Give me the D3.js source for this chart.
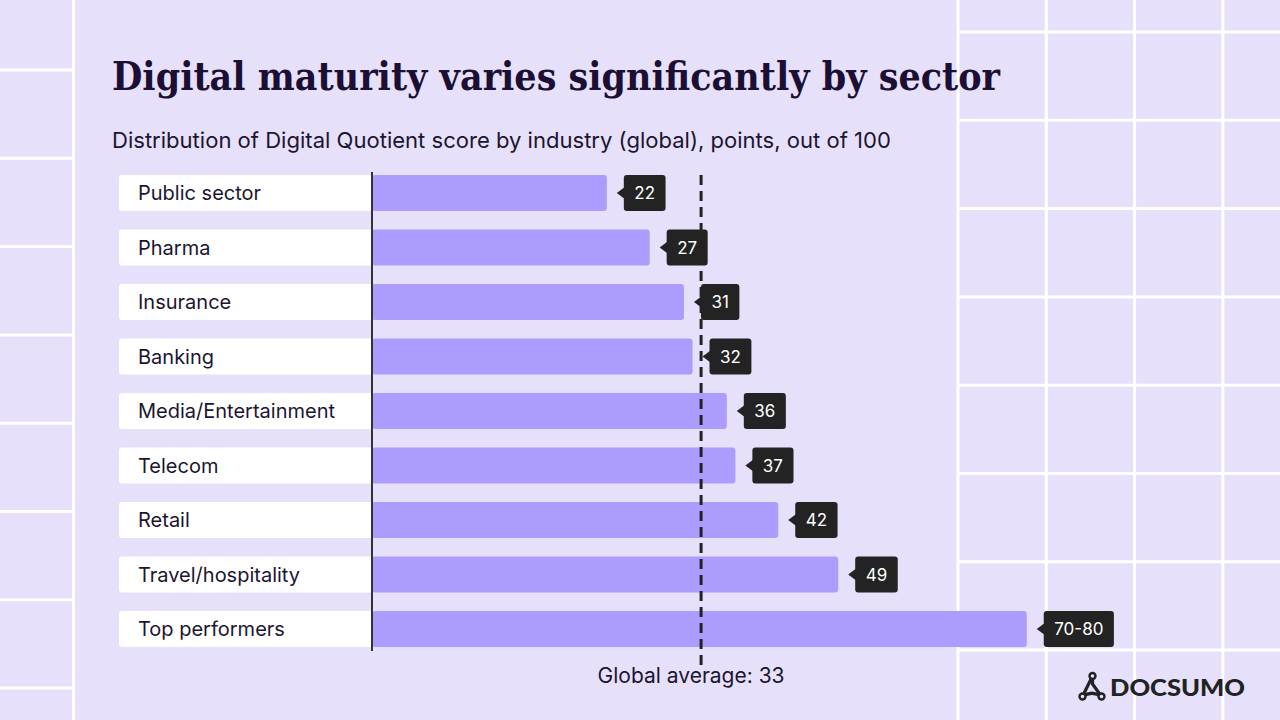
<!DOCTYPE html>
<html>
<head>
<meta charset="utf-8">
<script src="https://cdn.jsdelivr.net/npm/d3@7"></script>
<style>
  html, body { margin: 0; padding: 0; background: #E6E0FA; }
  svg { display: block; }
</style>
</head>
<body>
<svg id="chart" width="1280" height="720"></svg>
<script>
// ---- data ----
const categories = ["Public sector", "Pharma", "Insurance", "Banking", "Media/Entertainment", "Telecom", "Retail", "Travel/hospitality", "Top performers"];
const scores = [22, 27, 31, 32, 36, 37, 42, 49, 71];
const scoreLabels = ["22", "27", "31", "32", "36", "37", "42", "49", "70-80"];
const globalAverage = 33;
const titleText = "Digital maturity varies significantly by sector";
const subtitleText = "Distribution of Digital Quotient score by industry (global), points, out of 100";
const averageLabel = "Global average: 33";

// ---- styles ----
const BG = "#E6E0FA", BAR = "#AB9CFD", TAG = "#232323", INK = "#1C1530", TITLE = "#1B0F33";

const svg = d3.select("#chart");
svg.append("rect").attr("width", 1280).attr("height", 720).attr("fill", BG);

// ---- decorative grid ----
const grid = svg.append("g").attr("stroke", "#FFFFFF").attr("stroke-width", 3);
const step = 88.3;
grid.append("line").attr("x1", 73.5).attr("x2", 73.5).attr("y1", 0).attr("y2", 720);
d3.range(8).forEach(i => {
  const y = 70 + i * step;
  grid.append("line").attr("x1", 0).attr("x2", 72).attr("y1", y).attr("y2", y);
});
d3.range(4).forEach(i => {
  const x = 958 + i * step;
  grid.append("line").attr("x1", x).attr("x2", x).attr("y1", 0).attr("y2", 720);
});
d3.range(8).forEach(i => {
  const y = 32 + i * step;
  grid.append("line").attr("x1", 958).attr("x2", 1280).attr("y1", y).attr("y2", y);
});

// ---- titles ----
svg.append("text")
  .attr("x", 112).attr("y", 90)
  .attr("font-family", "'DejaVu Serif', serif")
  .attr("font-weight", 700)
  .attr("font-size", 39)
  .attr("textLength", 888)
  .attr("lengthAdjust", "spacingAndGlyphs")
  .attr("fill", TITLE)
  .text(titleText);

const sub = svg.append("text")
  .attr("x", 112).attr("y", 148)
  .attr("font-family", "Inter, sans-serif")
  .attr("font-size", 22)
  .attr("fill", INK)
  .text(subtitleText);
const sw = sub.node().getComputedTextLength();
sub.attr("font-size", 22 * 779 / sw);

// ---- scales ----
const x = d3.scaleLinear().domain([-5.4, 100]).range([372, 372 + 105.4 * 8.57]);
const y = d3.scaleBand().domain(categories).range([175, 647]).paddingInner(0.34).paddingOuter(0);
const bh = y.bandwidth();

// label boxes
const rows = svg.append("g");
rows.selectAll("rect.lbl").data(categories).join("rect")
  .attr("class", "lbl")
  .attr("x", 119).attr("y", d => y(d))
  .attr("width", 254).attr("height", bh)
  .attr("rx", 3).attr("fill", "#FFFFFF");
rows.selectAll("text.lbl").data(categories).join("text")
  .attr("class", "lbl")
  .attr("x", 138).attr("y", d => y(d) + bh / 2)
  .attr("dy", "0.36em")
  .attr("font-family", "Inter, sans-serif")
  .attr("font-size", 20)
  .attr("fill", INK)
  .text(d => d);

// bars
const data = categories.map((c, i) => ({ c, v: scores[i], l: scoreLabels[i] }));
svg.append("g").selectAll("rect").data(data).join("rect")
  .attr("x", x.range()[0])
  .attr("y", d => y(d.c))
  .attr("width", d => x(d.v) - x.range()[0])
  .attr("height", bh)
  .attr("rx", 3)
  .attr("fill", BAR);

// axis line
svg.append("line")
  .attr("x1", 372).attr("x2", 372)
  .attr("y1", 172).attr("y2", 651)
  .attr("stroke", "#333333").attr("stroke-width", 2);

// average line
const ax = x(globalAverage);
svg.append("line")
  .attr("x1", ax).attr("x2", ax)
  .attr("y1", 175).attr("y2", 665)
  .attr("stroke", "#222222").attr("stroke-width", 3)
  .attr("stroke-dasharray", "10,6");

svg.append("text")
  .attr("x", ax - 10).attr("y", 683)
  .attr("text-anchor", "middle")
  .attr("font-family", "Inter, sans-serif")
  .attr("font-size", 21)
  .attr("fill", INK)
  .text(averageLabel);

// value tags
const tags = svg.append("g").selectAll("g").data(data).join("g")
  .attr("transform", d => `translate(${x(d.v)},${y(d.c)})`);
tags.append("path")
  .attr("d", `M10,${bh / 2} L18,${bh / 2 - 6} L18,${bh / 2 + 6} Z`)
  .attr("fill", TAG);
const tagText = tags.append("text")
  .attr("y", bh / 2).attr("dy", "0.36em")
  .attr("text-anchor", "middle")
  .attr("font-family", "Inter, sans-serif")
  .attr("font-size", 17)
  .attr("fill", "#FFFFFF")
  .text(d => d.l);
tagText.each(function () {
  const w = this.getComputedTextLength() + 21;
  const g = d3.select(this.parentNode);
  g.insert("rect", "text")
    .attr("x", 17).attr("y", 0)
    .attr("width", w).attr("height", bh)
    .attr("rx", 3).attr("fill", TAG);
  d3.select(this).attr("x", 17 + w / 2);
});

// ---- logo ----
const logo = svg.append("g").attr("stroke", "#222222").attr("stroke-width", 3.2).attr("fill", "none")
  .attr("stroke-linecap", "round");
logo.append("path").attr("d", "M1092.5,676 L1082.5,696.5");
logo.append("path").attr("d", "M1092.5,676 L1092.5,684 L1101.5,696.5");
logo.append("path").attr("d", "M1082.5,696.5 Q1092,690 1101.5,696.5");
[[1092.5, 676], [1082.5, 696.5], [1101.5, 696.5]].forEach(p => {
  logo.append("circle").attr("cx", p[0]).attr("cy", p[1]).attr("r", 3).attr("fill", BG).attr("stroke-width", 2.4);
});
svg.append("text")
  .attr("x", 1110).attr("y", 695.5)
  .attr("font-family", "Lato, 'Open Sans', sans-serif")
  .attr("font-weight", 900)
  .attr("font-size", 22.5)
  .attr("textLength", 135)
  .attr("lengthAdjust", "spacingAndGlyphs")
  .attr("fill", "#222222")
  .text("DOCSUMO");
</script>
</body>
</html>
